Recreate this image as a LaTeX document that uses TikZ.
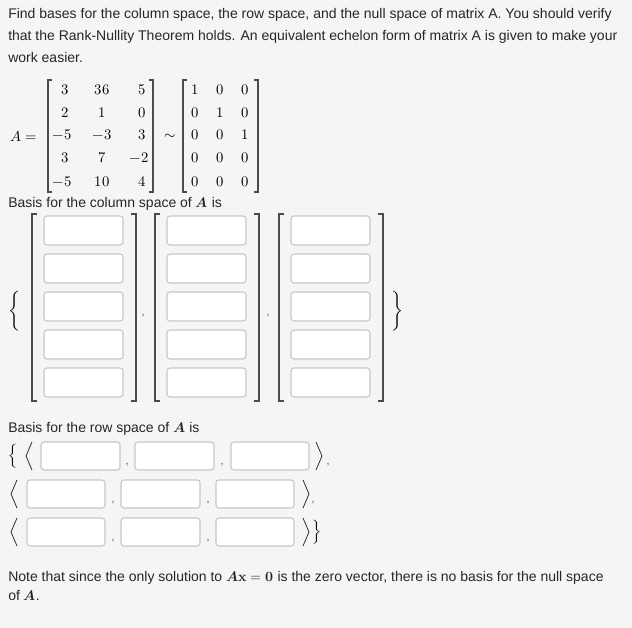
\documentclass[tikz,border=0pt]{standalone}
\usepackage{fontspec}
\setmainfont{Liberation Sans}
\usepackage{amsmath}
\usepackage{unicode-math}
\setmathfont{Latin Modern Math}
\begin{document}
\begin{tikzpicture}[x=0.75pt,y=-0.75pt,
  txt/.style={anchor=base west,inner sep=0,font=\fontsize{10.5pt}{12pt}\selectfont,text=black!85},
  ent/.style={inner sep=0,font=\fontsize{11pt}{12pt}\selectfont},
  brk/.style={draw=black!70,line width=1.1pt},
  ibox/.style={draw=black!22,fill=white,rounded corners=2.2pt,line width=0.8pt},
  comma/.style={inner sep=0,font=\fontsize{8pt}{8pt}\selectfont,text=black!70}]
\fill[black!4] (0,0) rectangle (632,628);
\useasboundingbox (0,0) rectangle (632,628);
\node[txt] (t1) at (8,18) {Find bases for the column space, the row space, and the null space of matrix A. You should verify};
\node[txt] (t2) at (8,40) {that the Rank-Nullity Theorem holds. An equivalent echelon form of matrix A is given to make your};
\node[txt] (t3) at (8,62) {work easier.};
% matrix A
\node[ent] (aeq) at (24,136) {$A=$};
\draw[brk] (52,80) -- (48,80) -- (48,192) -- (52,192);
\draw[brk] (149,80) -- (153,80) -- (153,192) -- (149,192);
\node[ent] (a11) at (65,90) {$3$};\node[ent] (a12) at (102,90) {$36$};\node[ent] (a13) at (142,90) {$5$};
\node[ent] (a21) at (65,113) {$2$};\node[ent] (a22) at (102,113) {$1$};\node[ent] (a23) at (142,113) {$0$};
\node[ent] (a31) at (62,135) {$-5$};\node[ent] (a32) at (102,135) {$-3$};\node[ent] (a33) at (142,135) {$3$};
\node[ent] (a41) at (65,158) {$3$};\node[ent] (a42) at (102,158) {$7$};\node[ent] (a43) at (139,158) {$-2$};
\node[ent] (a51) at (62,182) {$-5$};\node[ent] (a52) at (102,182) {$10$};\node[ent] (a53) at (142,182) {$4$};
\node[ent] (sim) at (170,137) {$\sim$};
\draw[brk] (187,80) -- (183,80) -- (183,192) -- (187,192);
\draw[brk] (254,80) -- (258,80) -- (258,192) -- (254,192);
\foreach \n/\y/\a/\b/\c in {1/90/1/0/0,2/113/0/1/0,3/135/0/0/1,4/158/0/0/0,5/182/0/0/0}{
  \node[ent] (r\n a) at (195,\y) {$\a$};
  \node[ent] (r\n b) at (220,\y) {$\b$};
  \node[ent] (r\n c) at (245,\y) {$\c$};}
\node[txt] (t4) at (8,207) {Basis for the column space of $\symbfit{A}$ is};
% column vectors
\node[inner sep=0] (lb) at (15,311) {$\left\{\rule{0pt}{17pt}\right.$};
\node[inner sep=0] (rb) at (397,311) {$\left.\rule{0pt}{17pt}\right\}$};
\foreach \k/\x in {1/32,2/155,3/279}{
  \draw[brk] (\x+5,214) -- (\x,214) -- (\x,401) -- (\x+5,401);
  \draw[brk] (\x+99,214) -- (\x+104,214) -- (\x+104,401) -- (\x+99,401);
  \foreach \j/\y in {1/216,2/254,3/292,4/330,5/368}{
    \draw[ibox] (\x+12,\y) rectangle (\x+91,\y+29);}
}
\node[comma] (c1) at (143,316) {,};
\node[comma] (c2) at (268,316) {,};
\node[txt] (t5) at (8,432) {Basis for the row space of $\symbfit{A}$ is};
% row vectors
\node[inner sep=0] (rlb) at (14,456) {$\left\{\rule{0pt}{12pt}\right.$};
\draw[black!80,line width=0.6pt] (32,442) -- (26,456) -- (32,470);
\draw[black!80,line width=0.6pt] (316,442) -- (322,456) -- (316,470);
\node[comma] (rc0) at (328,465) {,};
\draw[ibox] (41,442) rectangle (120,470);
\node[comma] (rc1) at (127,465) {,};
\draw[ibox] (135,442) rectangle (214,470);
\node[comma] (rc2) at (222,465) {,};
\draw[ibox] (231,442) rectangle (309,470);
\foreach \y/\e in {480/2,518/3}{
  \draw[black!80,line width=0.6pt] (17,\y) -- (11,\y+14) -- (17,\y+28);
  \draw[black!80,line width=0.6pt] (303,\y) -- (309,\y+14) -- (303,\y+28);
  \draw[ibox] (27,\y) rectangle (105,\y+28);
  \node[comma] (rx\e a) at (113,\y+23) {,};
  \draw[ibox] (121,\y) rectangle (200,\y+28);
  \node[comma] (rx\e b) at (208,\y+23) {,};
  \draw[ibox] (216,\y) rectangle (294,\y+28);
}
\node[comma] (rc3) at (313,503) {,};
\node[inner sep=0] (rrb) at (316,532) {$\left.\rule{0pt}{12pt}\right\}$};
\node[txt] (t6) at (8,581) {Note that since the only solution to $\symbfit{A}\symbfup{x}=\symbfup{0}$ is the zero vector, there is no basis for the null space};
\node[txt] (t7) at (8,600) {of $\symbfit{A}$.};
\end{tikzpicture}
\end{document}
